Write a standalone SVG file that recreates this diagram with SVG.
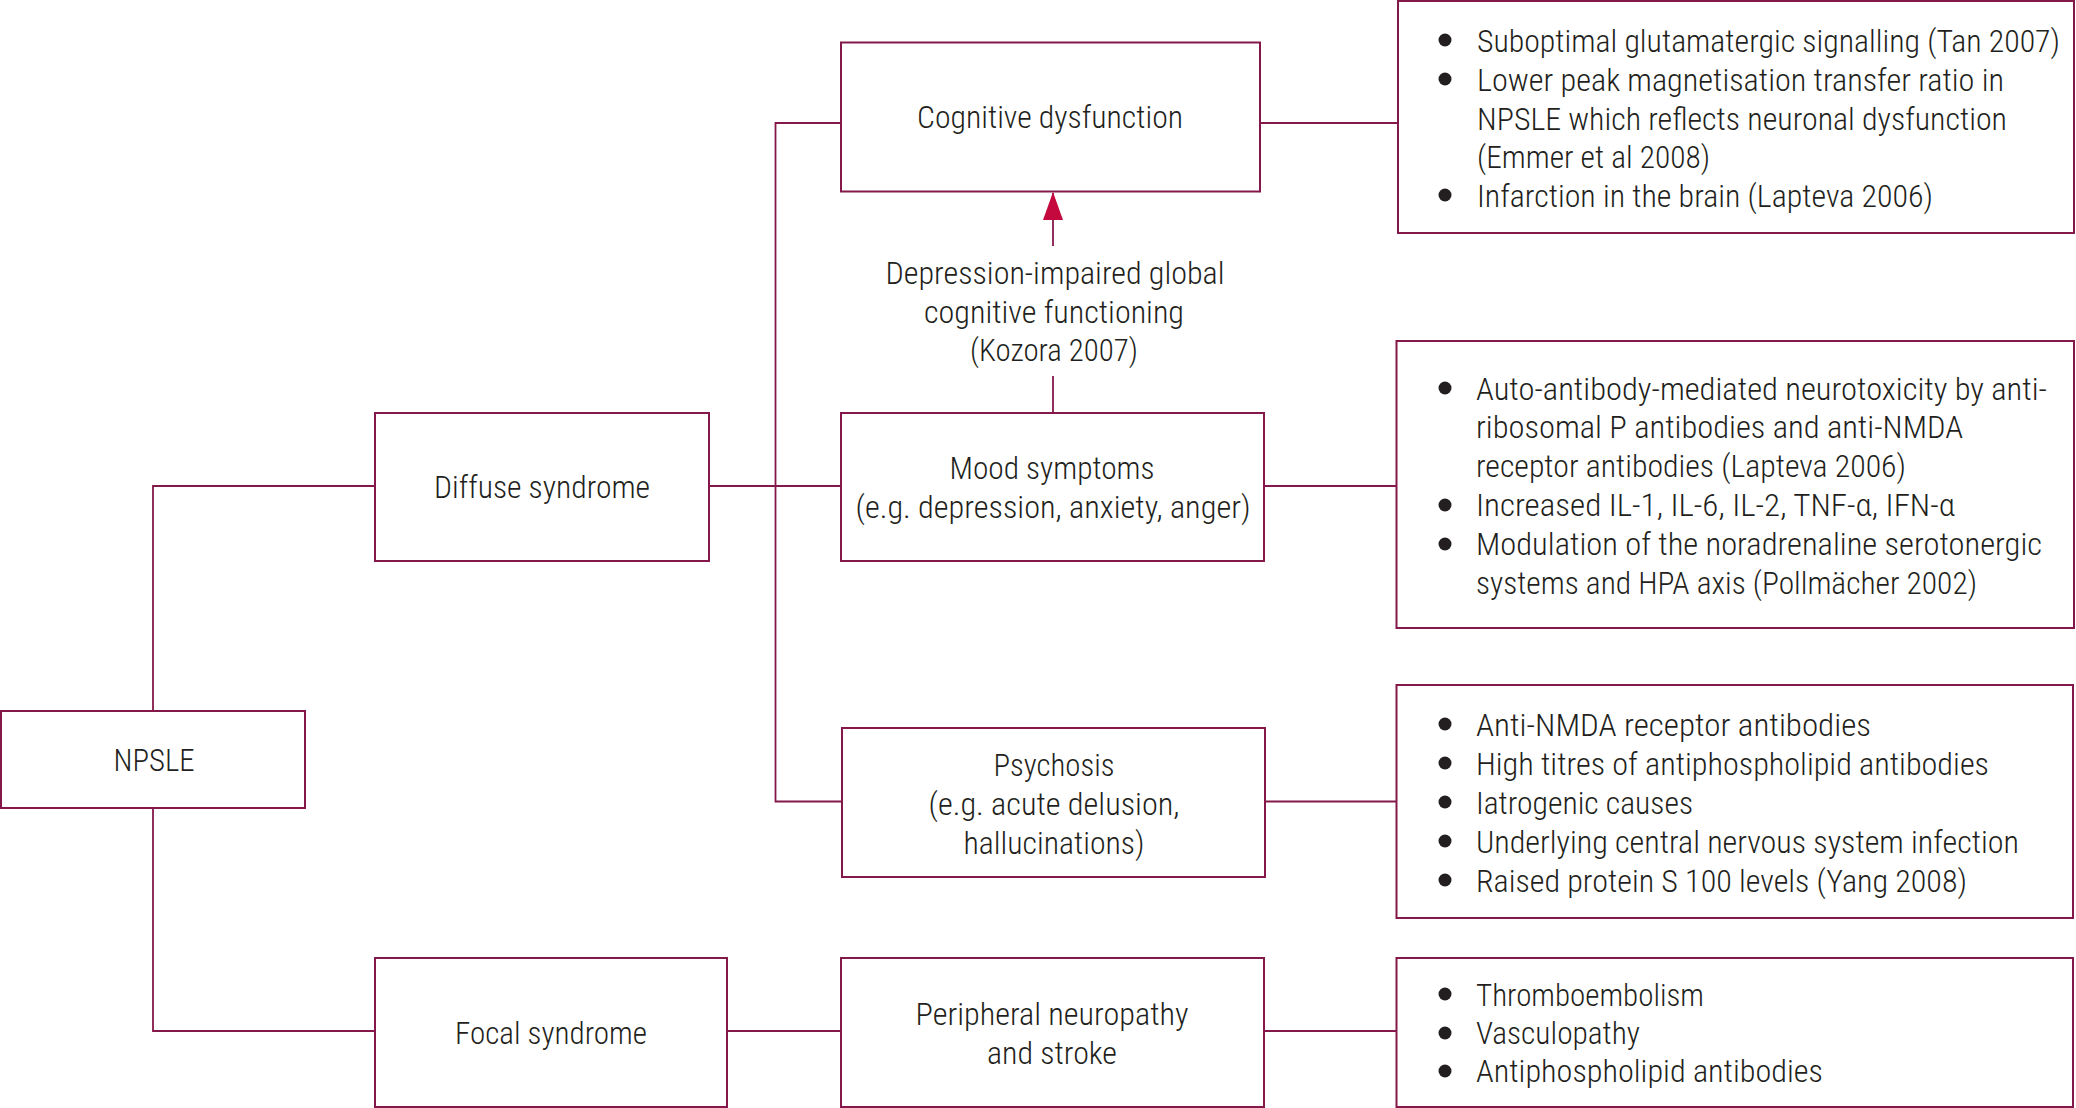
<svg xmlns="http://www.w3.org/2000/svg" width="2076" height="1108" viewBox="0 0 2076 1108">
<style>
.box{fill:#ffffff;stroke:#84184b;stroke-width:2}
.ln{fill:none;stroke:#84184b;stroke-width:1.8}
.t{font-family:Roboto,"Liberation Sans",Arial,sans-serif;font-stretch:75%;font-weight:350;font-size:32px;fill:#231f20}
.c{text-anchor:middle}
.b{fill:#231f20}
</style>
<defs>
<marker id="arr" markerUnits="userSpaceOnUse" markerWidth="28" markerHeight="20" refX="27" refY="10" orient="auto">
<path d="M0,0 L28,10 L0,20 z" fill="#c4093f"/>
</marker>
</defs>
<rect width="2076" height="1108" fill="#ffffff"/>
<g id="connectors">
<polyline class="ln" points="153,711 153,486 375,486"/>
<polyline class="ln" points="153,808 153,1031 375,1031"/>
<line class="ln" x1="709" y1="486" x2="841" y2="486"/>
<polyline class="ln" points="841,123 775.5,123 775.5,801.5 842,801.5"/>
<line class="ln" x1="1260" y1="123" x2="1398" y2="123"/>
<line class="ln" x1="1264" y1="486" x2="1397" y2="486"/>
<line class="ln" x1="1265" y1="801.5" x2="1397" y2="801.5"/>
<line class="ln" x1="727" y1="1031" x2="841" y2="1031"/>
<line class="ln" x1="1264" y1="1031" x2="1397" y2="1031"/>
<line class="ln" x1="1053" y1="413" x2="1053" y2="376"/>
<line class="ln" x1="1053" y1="246" x2="1053" y2="193" marker-end="url(#arr)"/>
<g id="edge-label">
<text class="t c" x="1055" y="284" textLength="339" lengthAdjust="spacingAndGlyphs">Depression-impaired global</text>
<text class="t c" x="1054" y="323" textLength="260" lengthAdjust="spacingAndGlyphs">cognitive functioning</text>
<text class="t c" x="1054" y="361" textLength="168" lengthAdjust="spacingAndGlyphs">(Kozora 2007)</text>
</g>
</g>
<g id="npsle">
<rect class="box" x="1" y="711" width="304" height="97"/>
<text class="t c" x="154" y="771" textLength="81" lengthAdjust="spacingAndGlyphs">NPSLE</text>
</g>
<g id="diffuse">
<rect class="box" x="375" y="413" width="334" height="148"/>
<text class="t c" x="542" y="498" textLength="216" lengthAdjust="spacingAndGlyphs">Diffuse syndrome</text>
</g>
<g id="focal">
<rect class="box" x="375" y="958" width="352" height="149"/>
<text class="t c" x="551" y="1044" textLength="192" lengthAdjust="spacingAndGlyphs">Focal syndrome</text>
</g>
<g id="cognitive">
<rect class="box" x="841" y="42.5" width="419" height="149"/>
<text class="t c" x="1050" y="128" textLength="266" lengthAdjust="spacingAndGlyphs">Cognitive dysfunction</text>
</g>
<g id="mood">
<rect class="box" x="841" y="413" width="423" height="148"/>
<text class="t c" x="1052" y="479" textLength="205" lengthAdjust="spacingAndGlyphs">Mood symptoms</text>
<text class="t c" x="1053" y="518" textLength="395" lengthAdjust="spacingAndGlyphs">(e.g. depression, anxiety, anger)</text>
</g>
<g id="psychosis">
<rect class="box" x="842" y="728" width="423" height="149"/>
<text class="t c" x="1054" y="776" textLength="121" lengthAdjust="spacingAndGlyphs">Psychosis</text>
<text class="t c" x="1054" y="815" textLength="251" lengthAdjust="spacingAndGlyphs">(e.g. acute delusion,</text>
<text class="t c" x="1054" y="854" textLength="181" lengthAdjust="spacingAndGlyphs">hallucinations)</text>
</g>
<g id="peripheral">
<rect class="box" x="841" y="958" width="423" height="149"/>
<text class="t c" x="1052" y="1025" textLength="273" lengthAdjust="spacingAndGlyphs">Peripheral neuropathy</text>
<text class="t c" x="1052" y="1064" textLength="130" lengthAdjust="spacingAndGlyphs">and stroke</text>
</g>
<g id="cognitive-causes">
<rect class="box" x="1398" y="1" width="676" height="232"/>
<circle class="b" cx="1445" cy="40" r="6.5"/>
<circle class="b" cx="1445" cy="79" r="6.5"/>
<circle class="b" cx="1445" cy="195" r="6.5"/>
<text class="t" x="1477" y="52" textLength="583" lengthAdjust="spacingAndGlyphs">Suboptimal glutamatergic signalling (Tan 2007)</text>
<text class="t" x="1477" y="91" textLength="527" lengthAdjust="spacingAndGlyphs">Lower peak magnetisation transfer ratio in</text>
<text class="t" x="1477" y="130" textLength="530" lengthAdjust="spacingAndGlyphs">NPSLE which reflects neuronal dysfunction</text>
<text class="t" x="1477" y="168" textLength="233" lengthAdjust="spacingAndGlyphs">(Emmer et al 2008)</text>
<text class="t" x="1477" y="207" textLength="456" lengthAdjust="spacingAndGlyphs">Infarction in the brain (Lapteva 2006)</text>
</g>
<g id="mood-causes">
<rect class="box" x="1396.5" y="341" width="677.5" height="287"/>
<circle class="b" cx="1445" cy="388" r="6.5"/>
<circle class="b" cx="1445" cy="505" r="6.5"/>
<circle class="b" cx="1445" cy="544" r="6.5"/>
<text class="t" x="1476" y="400" textLength="571" lengthAdjust="spacingAndGlyphs">Auto-antibody-mediated neurotoxicity by anti-</text>
<text class="t" x="1476" y="438" textLength="487" lengthAdjust="spacingAndGlyphs">ribosomal P antibodies and anti-NMDA</text>
<text class="t" x="1476" y="477" textLength="430" lengthAdjust="spacingAndGlyphs">receptor antibodies (Lapteva 2006)</text>
<text class="t" x="1476" y="516" textLength="479" lengthAdjust="spacingAndGlyphs">Increased IL-1, IL-6, IL-2, TNF-α, IFN-α</text>
<text class="t" x="1476" y="555" textLength="566" lengthAdjust="spacingAndGlyphs">Modulation of the noradrenaline serotonergic</text>
<text class="t" x="1476" y="594" textLength="501" lengthAdjust="spacingAndGlyphs">systems and HPA axis (Pollmächer 2002)</text>
</g>
<g id="psychosis-causes">
<rect class="box" x="1396.5" y="685" width="676.5" height="233"/>
<circle class="b" cx="1445" cy="724" r="6.5"/>
<circle class="b" cx="1445" cy="763" r="6.5"/>
<circle class="b" cx="1445" cy="802" r="6.5"/>
<circle class="b" cx="1445" cy="841" r="6.5"/>
<circle class="b" cx="1445" cy="880" r="6.5"/>
<text class="t" x="1476" y="736" textLength="395" lengthAdjust="spacingAndGlyphs">Anti-NMDA receptor antibodies</text>
<text class="t" x="1476" y="775" textLength="513" lengthAdjust="spacingAndGlyphs">High titres of antiphospholipid antibodies</text>
<text class="t" x="1476" y="814" textLength="217" lengthAdjust="spacingAndGlyphs">Iatrogenic causes</text>
<text class="t" x="1476" y="853" textLength="543" lengthAdjust="spacingAndGlyphs">Underlying central nervous system infection</text>
<text class="t" x="1476" y="892" textLength="491" lengthAdjust="spacingAndGlyphs">Raised protein S 100 levels (Yang 2008)</text>
</g>
<g id="focal-causes">
<rect class="box" x="1396.5" y="958" width="676.5" height="149"/>
<circle class="b" cx="1445" cy="994" r="6.5"/>
<circle class="b" cx="1445" cy="1033" r="6.5"/>
<circle class="b" cx="1445" cy="1071" r="6.5"/>
<text class="t" x="1476" y="1006" textLength="228" lengthAdjust="spacingAndGlyphs">Thromboembolism</text>
<text class="t" x="1476" y="1044" textLength="164" lengthAdjust="spacingAndGlyphs">Vasculopathy</text>
<text class="t" x="1476" y="1082" textLength="347" lengthAdjust="spacingAndGlyphs">Antiphospholipid antibodies</text>
</g>
</svg>
